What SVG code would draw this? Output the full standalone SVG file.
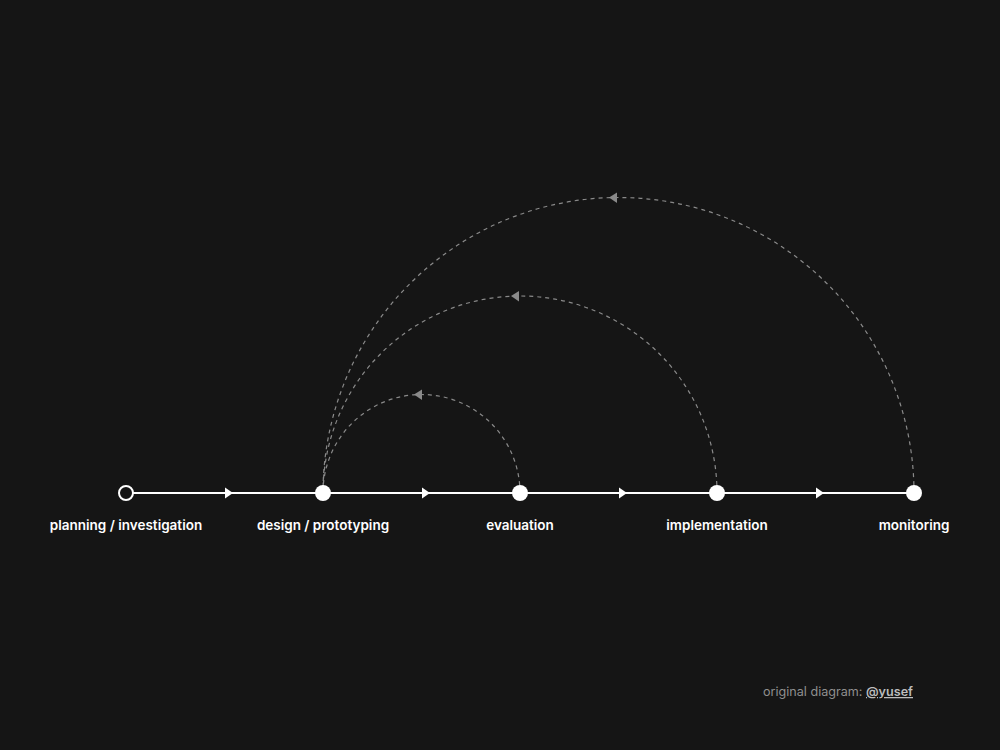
<svg xmlns="http://www.w3.org/2000/svg" width="1000" height="750" viewBox="0 0 1000 750">
<style>
.bg{fill:#151515}
.main{stroke:#ffffff;stroke-width:2;fill:none}
.loop{stroke:#8a8a8a;stroke-width:1.2;stroke-dasharray:4 4;fill:none}
.fwd{fill:#ffffff}
.back{fill:#8a8a8a}
.node{fill:#ffffff}
.label{font-family:Inter,"Noto Sans",sans-serif;font-size:13.5px;font-weight:600;fill:#ffffff;text-anchor:middle}
.credit{font-family:Inter,"Noto Sans",sans-serif;font-size:12.6px;fill:#8f8f8f}
</style>
<rect class="bg" x="0" y="0" width="1000" height="750"/>
<g id="connectors">
<path class="loop" d="M520 493 A98.5 98.5 0 0 0 323 493"/>
<path class="loop" d="M717 493 A197 197 0 0 0 323 493"/>
<path class="loop" d="M914 493 A295.5 295.5 0 0 0 323 493"/>
<path class="back" d="M414 394.5 L422 389.5 L422 400 Z"/>
<path class="back" d="M511 296 L519 291 L519 301.5 Z"/>
<path class="back" d="M609 197.5 L617 192.5 L617 203 Z"/>
<line class="main" x1="133" y1="493" x2="914" y2="493"/>
<path class="fwd" d="M233 493 L225 487.5 L225 498.5 Z"/>
<path class="fwd" d="M430 493 L422 487.5 L422 498.5 Z"/>
<path class="fwd" d="M627 493 L619 487.5 L619 498.5 Z"/>
<path class="fwd" d="M824 493 L816 487.5 L816 498.5 Z"/>
</g>
<g id="node-planning">
<circle cx="126" cy="493" r="7" fill="#151515" stroke="#ffffff" stroke-width="2"/>
<text class="label" x="126" y="530">planning / investigation</text>
</g>
<g id="node-design">
<circle class="node" cx="323" cy="493" r="8"/>
<text class="label" x="323" y="530">design / prototyping</text>
</g>
<g id="node-evaluation">
<circle class="node" cx="520" cy="493" r="8"/>
<text class="label" x="520" y="530">evaluation</text>
</g>
<g id="node-implementation">
<circle class="node" cx="717" cy="493" r="8"/>
<text class="label" x="717" y="530">implementation</text>
</g>
<g id="node-monitoring">
<circle class="node" cx="914" cy="493" r="8"/>
<text class="label" x="914" y="530">monitoring</text>
</g>
<g id="credit">
<text class="credit" x="913" y="696" text-anchor="end">original diagram: <tspan fill="#bdbdbd" font-weight="600" text-decoration="underline">@yusef</tspan></text>
</g>
</svg>
